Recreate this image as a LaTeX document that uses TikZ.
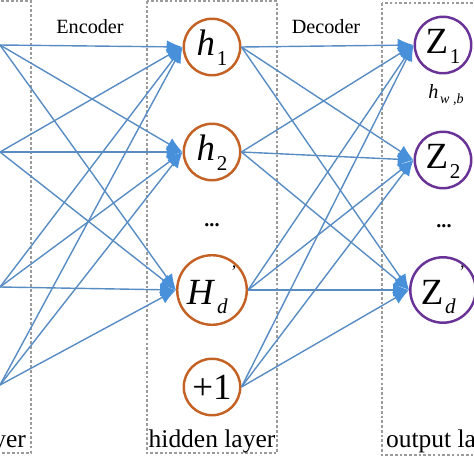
\documentclass[tikz,border=0pt]{standalone}
\usepackage{fontspec}
\setmainfont{Liberation Serif}
\usetikzlibrary{%
  arrows.meta
}
\definecolor{lineblue}{RGB}{88,140,195}
\definecolor{tipblue}{RGB}{72,145,218}
\definecolor{hidorange}{RGB}{196,98,38}
\definecolor{outpurple}{RGB}{105,50,150}
\definecolor{boxgrey}{RGB}{155,155,155}
\tikzstyle{hid}=[circle,draw=hidorange,line width=1.4pt,fill=white,minimum size=1.13cm,inner sep=0pt,font=\fontsize{21}{21}\selectfont]
\tikzstyle{outn}=[hid,draw=outpurple]
\tikzstyle{layerbox}=[draw=boxgrey,line width=0.6pt,dash pattern=on 1.5pt off 1.2pt]
\tikzstyle{lbl}=[inner sep=1pt,font=\fontsize{11.5}{11.5}\selectfont]
\tikzstyle{big}=[inner sep=1pt,font=\fontsize{14.5}{14.5}\selectfont]
% main letter, subscript, optional prime
\newcommand{\nodelab}[3]{#1\kern1pt\raisebox{-0.55ex}{\fontsize{12}{12}\selectfont #2}\raisebox{1.6ex}{\fontsize{10}{10}\selectfont #3}}

\begin{document}
\begin{tikzpicture}[x=0.02cm,y=-0.02cm,%
  every edge/.style={draw=lineblue,line width=0.8pt,-{Latex[length=9pt,width=7.5pt,color=tipblue]}}]
\useasboundingbox (0,0) rectangle (474,474);
% layer boxes
\draw[layerbox] (-20,1) rectangle (31,453);
\draw[layerbox] (147,1) rectangle (277,453);
\draw[layerbox] (382,3) rectangle (495,455);
% input units (outside the picture)
\coordinate (x1) at (0,45);
\coordinate (x2) at (0,152);
\coordinate (x3) at (0,287);
\coordinate (x4) at (0,385);
% hidden layer
\node[hid](h1)at(212,47){\nodelab{\textit{h}}{1}{}};
\node[hid](h2)at(212,152){\nodelab{\textit{h}}{2}{}};
\node[hid](hd)at(212,290){\nodelab{\textit{H}}{\textit{d}}{\kern2pt'}};
\node[hid](hb)at(212,387){+1};
% output layer
\node[outn](z1)at(443,45){\nodelab{Z}{1}{}};
\node[outn](z2)at(443,160){\nodelab{Z}{2}{}};
\node[outn](zd)at(443,290){\nodelab{Z}{\textit{d}}{\kern2pt'}};
% texts
\node[lbl](enc)at(90,27){Encoder};
\node[lbl](dec)at(326,27){Decoder};
\node[lbl](hwb)at(446,95){\textit{h}\kern1pt\raisebox{-0.6ex}{\fontsize{8}{8}\selectfont\textit{w ,b}}};
\node[lbl](hdots)at(212,225){\textbf{...}};
\node[lbl](zdots)at(444,226){\textbf{...}};
\node[big,anchor=east](inlab)at(28,441){input layer};
\node[big](hidlab)at(212,441){hidden layer};
\node[big,anchor=west](outlab)at(384,441){output layer};
% encoder
\draw
  (x1)edge(h1.west) edge(h2.west) edge(hd.west)
  (x2)edge(h1.west) edge(h2.west) edge(hd.west)
  (x3)edge(h1.west) edge(h2.west) edge(hd.west)
  (x4)edge(h1.west) edge(h2.west) edge(hd.west);
% decoder
\draw
  (h1.east)edge(z1.west) edge(z2.west) edge(zd.west)
  (h2.east)edge(z1.west) edge(z2.west) edge(zd.west)
  (hd.east)edge(z1.west) edge(z2.west) edge(zd.west)
  (hb.east)edge(z1.west) edge(z2.west) edge(zd.west);
\end{tikzpicture}
\end{document}
